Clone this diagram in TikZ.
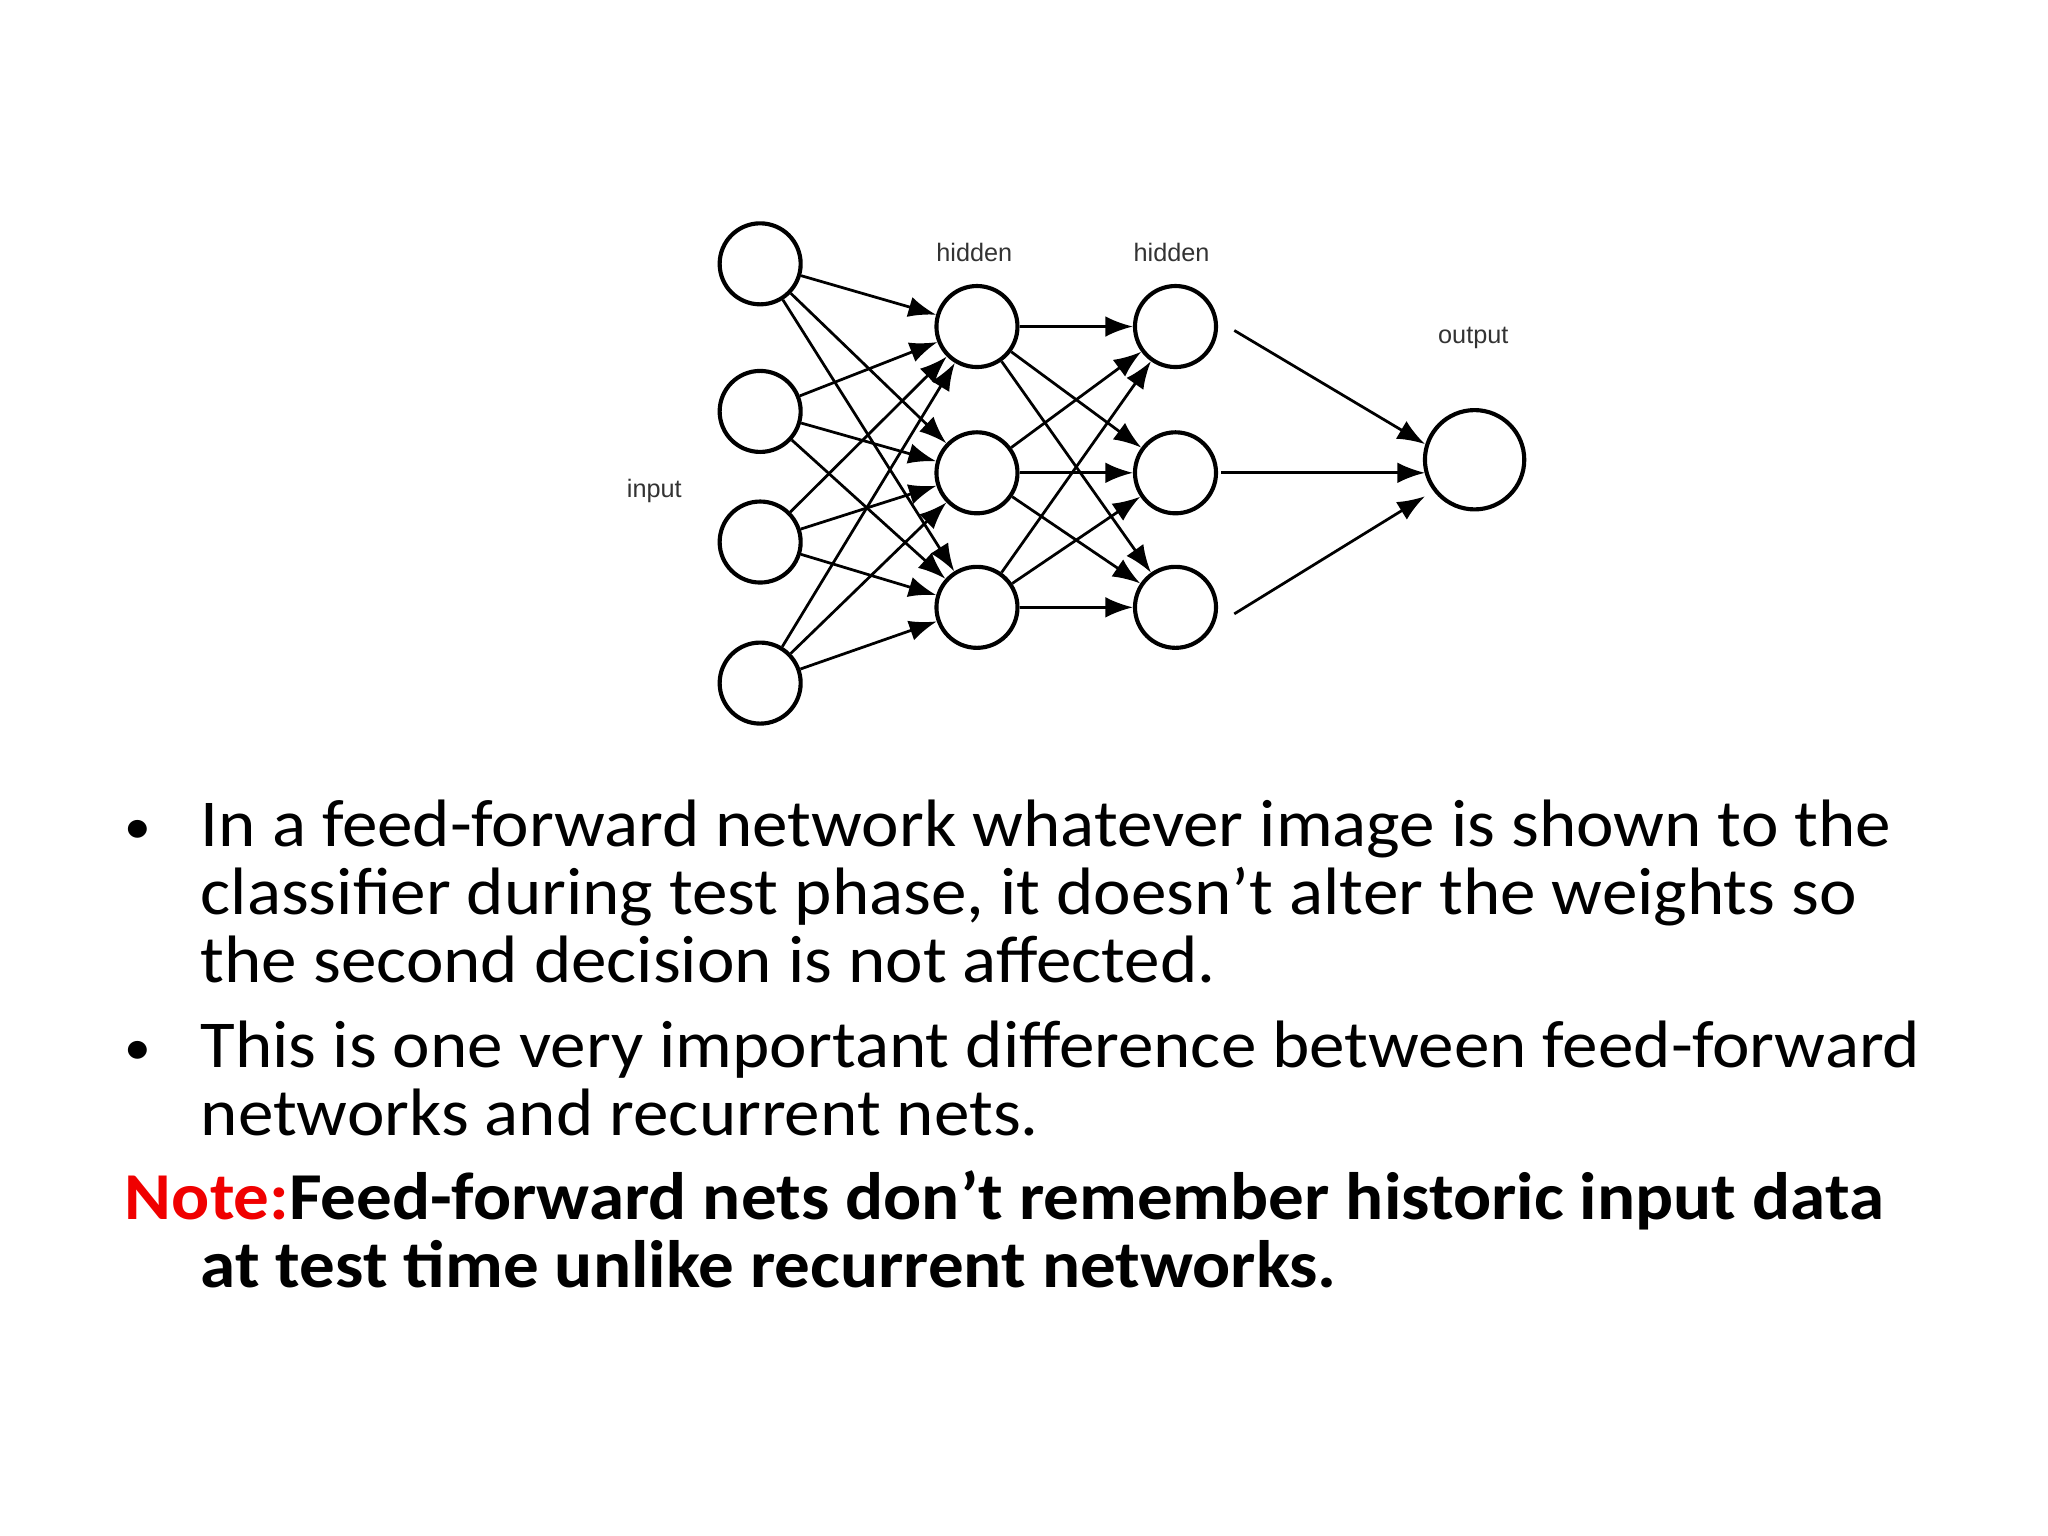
\documentclass[tikz,border=0pt]{standalone}
\usepackage{fontspec}
\setmainfont{Carlito}[FakeStretch=1.06]
\usetikzlibrary{arrows.meta}
\definecolor{notered}{RGB}{240,0,0}
\begin{document}
\begin{tikzpicture}[x=0.01cm,y=-0.01cm,
  neuron/.style={circle,draw,line width=0.9pt,minimum size=#1},
  neuron/.default=0.6cm,
  lab/.style={font=\fontspec{Liberation Sans}\fontsize{5.5pt}{6pt}\selectfont,text=black!80},
  conn/.style={-{Latex[length=6pt,width=4.5pt]},line width=0.6pt},
  body/.style={anchor=base west,inner sep=0,font=\fontsize{14.6pt}{17pt}\selectfont}]
\useasboundingbox (0,0) rectangle (1568,1176);
\foreach \i/\y in {1/202,2/315,3/415,4/523} \node[neuron=0.62cm] (i\i) at (582,\y) {};
\foreach \i/\y in {1/250,2/362,3/465} {
  \node[neuron=0.62cm] (a\i) at (748,\y) {};
  \node[neuron=0.62cm] (b\i) at (900,\y) {};}
\node[neuron=0.76cm] (o) at (1129,352) {};
\node[lab] (lh1) at (746,193) {hidden};
\node[lab] (lh2) at (897,193) {hidden};
\node[lab] (lo) at (1128,259) {output};
\node[lab] (li) at (501,376) {input};
\foreach \i in {1,...,4} \foreach \j in {1,2,3} \draw[conn] (i\i) -- (a\j);
\foreach \i in {1,2,3} \foreach \j in {1,2,3} \draw[conn] (a\i) -- (b\j);
\coordinate (s1) at (945,253);
\coordinate (s2) at (935,362);
\coordinate (s3) at (945,470);
\coordinate (e1) at (1091,340);
\coordinate (e2) at (1091,362);
\coordinate (e3) at (1091,380);
\draw[conn] (s1) -- (e1);
\draw[conn] (s2) -- (e2);
\draw[conn] (s3) -- (e3);
\node[body,font=\fontsize{11pt}{13pt}\selectfont] (d1) at (95,646) {•};
\node[body] (t1) at (153,648) {In a feed-forward network whatever image is shown to the};
\node[body] (t2) at (153,700) {classifier during test phase, it doesn’t alter the weights so};
\node[body] (t3) at (153,752) {the second decision is not affected.};
\node[body,font=\fontsize{11pt}{13pt}\selectfont] (d2) at (95,815) {•};
\node[body] (t4) at (153,817) {This is one very important difference between feed-forward};
\node[body] (t5) at (153,869) {networks and recurrent nets.};
\node[body,font=\bfseries\fontsize{14.6pt}{17pt}\selectfont] (t6) at (95,934) {\textcolor{notered}{Note:}Feed-forward nets don’t remember historic input data};
\node[body,font=\bfseries\fontsize{14.6pt}{17pt}\selectfont] (t7) at (153,986) {at test time unlike recurrent networks.};
\end{tikzpicture}
\end{document}
